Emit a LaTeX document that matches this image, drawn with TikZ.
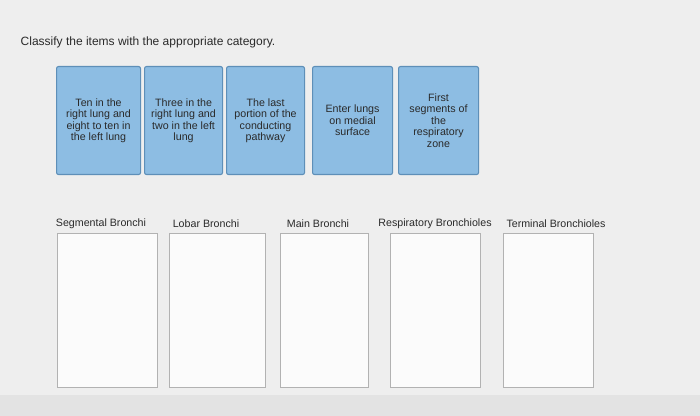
\documentclass[tikz,border=0pt]{standalone}
\usepackage{fontspec}
\setmainfont{Liberation Sans}
\definecolor{bg}{HTML}{EEEEEE}
\definecolor{card}{HTML}{8DBDE3}
\definecolor{cardb}{HTML}{5E8FB8}
\definecolor{txt}{HTML}{2A2A2A}
\begin{document}
\begin{tikzpicture}[x=0.75pt,y=-0.75pt,
  cardbox/.style={draw=cardb,fill=card,line width=0.8pt,rounded corners=1.5pt,anchor=north west,inner sep=0pt,align=center,text=txt,font=\fontsize{8}{8.6}\selectfont},
  dropbox/.style={draw=gray!60,fill=white!97!gray,line width=0.8pt,anchor=north west,inner sep=0pt},
  lab/.style={text=txt,font=\fontsize{8}{9}\selectfont}]
\fill[bg] (0,0) rectangle (700,416);
\fill[gray!22] (0,395) rectangle (700,416);
\useasboundingbox (0,0) rectangle (700,416);
\node[anchor=west,text=txt,font=\fontsize{9}{10}\selectfont] (title) at (16,42) {Classify the items with the appropriate category.};
\node[cardbox,minimum width=84*0.75pt,minimum height=108*0.75pt] (c1) at (56,66) {Ten in the\\right lung and\\eight to ten in\\the left lung};
\node[cardbox,minimum width=78*0.75pt,minimum height=108*0.75pt] (c2) at (144,66) {Three in the\\right lung and\\two in the left\\lung};
\node[cardbox,minimum width=78*0.75pt,minimum height=108*0.75pt] (c3) at (226,66) {The last\\portion of the\\conducting\\pathway};
\node[cardbox,minimum width=80*0.75pt,minimum height=108*0.75pt] (c4) at (312,66) {Enter lungs\\on medial\\surface};
\node[cardbox,minimum width=80*0.75pt,minimum height=108*0.75pt] (c5) at (398,66) {First\\segments of\\the\\respiratory\\zone};
\node[lab] (l1) at (101,224) {Segmental Bronchi};
\node[lab] (l2) at (206,224) {Lobar Bronchi};
\node[lab] (l3) at (318,224) {Main Bronchi};
\node[lab] (l4) at (435,224) {Respiratory Bronchioles};
\node[lab] (l5) at (556,224) {Terminal Bronchioles};
\node[dropbox,minimum width=100*0.75pt,minimum height=154*0.75pt] (d1) at (57,233) {};
\node[dropbox,minimum width=96*0.75pt,minimum height=154*0.75pt] (d2) at (169,233) {};
\node[dropbox,minimum width=88*0.75pt,minimum height=154*0.75pt] (d3) at (280,233) {};
\node[dropbox,minimum width=90*0.75pt,minimum height=154*0.75pt] (d4) at (390,233) {};
\node[dropbox,minimum width=90*0.75pt,minimum height=154*0.75pt] (d5) at (503,233) {};
\end{tikzpicture}
\end{document}
